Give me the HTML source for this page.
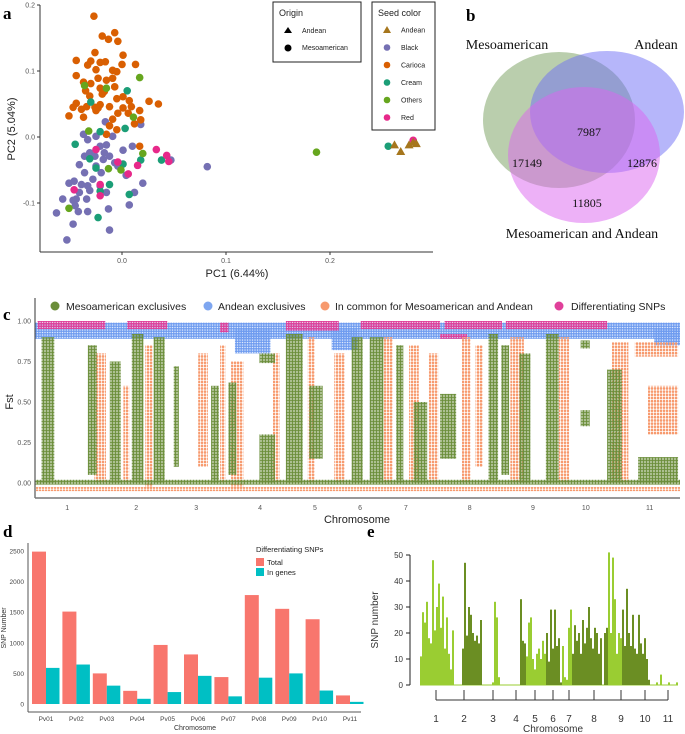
<!DOCTYPE html>
<html><head><meta charset="utf-8"><style>
body{margin:0;background:#fff;}
svg{display:block;font-family:"Liberation Sans",sans-serif;}
.pl{font-family:"Liberation Serif",serif;font-weight:bold;font-size:17px;}
.tk{font-size:7px;fill:#555;}
</style></head><body>
<svg id="fig" width="685" height="734" viewBox="0 0 685 734">
<defs>
<pattern id="pg" width="3" height="3" patternUnits="userSpaceOnUse"><circle cx="1.5" cy="1.5" r="1.45" fill="#6b8e3a"/></pattern>
<pattern id="po" width="3" height="3.2" patternUnits="userSpaceOnUse"><circle cx="1" cy="1.2" r="1.4" fill="#f79a6e"/></pattern>
<pattern id="pb" width="2.5" height="2.5" patternUnits="userSpaceOnUse"><circle cx="1.25" cy="1.25" r="1.25" fill="#6f9cf0"/></pattern>
<pattern id="pp" width="2.5" height="2.5" patternUnits="userSpaceOnUse"><circle cx="1.25" cy="1.25" r="1.25" fill="#e0409a"/></pattern>
</defs>
<!-- Panel A -->
<g id="pa">
<text class="pl" x="3" y="19">a</text>
<line x1="40" y1="5" x2="40" y2="252" stroke="#333"/>
<line x1="40" y1="252" x2="433" y2="252" stroke="#333"/>
<text x="237" y="277" font-size="11" text-anchor="middle" fill="#222">PC1 (6.44%)</text>
<text transform="translate(15,129) rotate(-90)" font-size="11" text-anchor="middle" fill="#222">PC2 (5.04%)</text>
<g id="aTicks"></g><g id="aPts"></g>
<g>
<rect x="273" y="2" width="88" height="60" fill="#fff" stroke="#222"/>
<text x="279" y="16" font-size="9" fill="#222">Origin</text>
<polygon points="288,27 284,33 292,33" fill="#000"/><text x="302" y="33" font-size="7" fill="#222">Andean</text>
<circle cx="288" cy="48" r="3.5" fill="#000"/><text x="302" y="50" font-size="7" fill="#222">Mesoamerican</text>
</g>
<g id="seedLeg">
<rect x="372" y="2" width="63" height="128" fill="#fff" stroke="#222"/>
<text x="378" y="16" font-size="9" fill="#222">Seed color</text>
</g>
</g>
<!-- Panel B -->
<g>
<text class="pl" x="466" y="21">b</text>
<ellipse cx="559" cy="120" rx="76" ry="68" fill="rgb(130,165,105)" fill-opacity="0.55"/>
<ellipse cx="607" cy="112" rx="77" ry="61" fill="rgb(110,110,245)" fill-opacity="0.5"/>
<ellipse cx="584" cy="155" rx="76" ry="68" fill="rgb(220,100,240)" fill-opacity="0.5"/>
<g font-family="Liberation Serif,serif" fill="#111">
<text x="507" y="49" font-size="14" text-anchor="middle">Mesoamerican</text>
<text x="656" y="49" font-size="14" text-anchor="middle">Andean</text>
<text x="582" y="238" font-size="14" text-anchor="middle">Mesoamerican and Andean</text>
<text x="589" y="136" font-size="12" text-anchor="middle">7987</text>
<text x="527" y="167" font-size="12" text-anchor="middle">17149</text>
<text x="642" y="167" font-size="12" text-anchor="middle">12876</text>
<text x="587" y="207" font-size="12" text-anchor="middle">11805</text>
</g>
</g>
<!-- Panel C -->
<g>
<text class="pl" x="3" y="320">c</text>
<g id="cLeg"></g>
<g id="cMarks"></g>
<line x1="35" y1="298" x2="35" y2="498" stroke="#333"/>
<line x1="35" y1="498" x2="680" y2="498" stroke="#777" stroke-width="1.5"/>
<g id="cTicks"></g>
<text x="357" y="523" font-size="11" text-anchor="middle" fill="#222">Chromosome</text>
<text transform="translate(13,402) rotate(-90)" font-size="11" text-anchor="middle" fill="#222">Fst</text>
</g>
<!-- Panel D -->
<g>
<text class="pl" x="3" y="537">d</text>
<line x1="28" y1="543" x2="28" y2="712" stroke="#555"/>
<line x1="28" y1="712" x2="361" y2="712" stroke="#555"/>
<g id="dMarks"></g>
<text x="195" y="730" font-size="7" text-anchor="middle" fill="#333">Chromosome</text>
<text transform="translate(6,628) rotate(-90)" font-size="7" text-anchor="middle" fill="#333">SNP Number</text>
<g>
<text x="256" y="552" font-size="7.5" fill="#222">Differentiating SNPs</text>
<rect x="256" y="558" width="8" height="8" fill="#f8766d"/><text x="267" y="565" font-size="7.5" fill="#222">Total</text>
<rect x="256" y="568" width="8" height="8" fill="#00bfc4"/><text x="267" y="575" font-size="7.5" fill="#222">In genes</text>
</g>
</g>
<!-- Panel E -->
<g>
<text class="pl" x="367" y="537">e</text>
<line x1="410" y1="555" x2="410" y2="685" stroke="#222"/>
<g id="eMarks"></g>
<line x1="436" y1="700" x2="668" y2="700" stroke="#333"/>
<text x="553" y="732" font-size="10" text-anchor="middle" fill="#333">Chromosome</text>
<text transform="translate(378,620) rotate(-90)" font-size="10" text-anchor="middle" fill="#333">SNP number</text>
</g>
</svg>
<script>
const NS="http://www.w3.org/2000/svg";
function mk(tag,attrs,parent,txt){const e=document.createElementNS(NS,tag);for(const k in attrs)e.setAttribute(k,attrs[k]);if(txt!==undefined)e.textContent=txt;parent.appendChild(e);return e;}
/* ---------- Panel A data ---------- */
const aXTicks=[0,0.1,0.2];
const aYTicks=[-0.1,0,0.1,0.2];
const cariocaPts=[[-0.027,0.183],[-0.019,0.153],[-0.007,0.158],[-0.013,0.148],[-0.004,0.145],[-0.026,0.128],[0.001,0.124],[-0.044,0.116],[-0.030,0.115],[-0.021,0.113],[-0.016,0.114],[0.013,0.110],[0,0.110],[-0.033,0.109],[-0.025,0.102],[-0.009,0.101],[-0.044,0.093],[-0.005,0.099],[-0.023,0.089],[-0.037,0.083],[-0.015,0.086],[-0.009,0.089],[-0.007,0.076],[-0.021,0.074],[-0.017,0.069],[-0.035,0.070],[-0.031,0.062],[-0.019,0.065],[-0.005,0.058],[0.001,0.061],[0.007,0.055],[0.026,0.054],[0.035,0.050],[-0.044,0.051],[-0.034,0.046],[-0.026,0.045],[-0.021,0.049],[-0.012,0.046],[-0.047,0.045],[-0.039,0.042],[-0.025,0.040],[0.001,0.044],[0.009,0.046],[0.017,0.040],[-0.051,0.032],[-0.037,0.030],[-0.009,0.027],[-0.004,0.036],[0.006,0.036],[0.012,0.020],[0.018,0.026],[-0.012,0.017],[-0.005,0.011],[-0.015,0.004],[0.017,-0.014],[-0.023,0.044],[-0.030,0.081]];
const blackPts=[[-0.063,-0.115],[-0.053,-0.156],[-0.047,-0.132],[-0.057,-0.094],[-0.047,-0.096],[-0.042,-0.113],[-0.033,-0.113],[-0.012,-0.141],[-0.013,-0.109],[0.007,-0.103],[0.012,-0.084],[0.020,-0.070],[0.082,-0.045],[0.047,-0.035],[0.004,-0.058],[0.001,-0.020],[0.010,-0.014],[0.018,0.019],[-0.016,0.023],[-0.037,0.004],[-0.033,-0.004],[-0.025,0.001],[-0.041,-0.042],[-0.036,-0.029],[-0.031,-0.024],[-0.021,-0.014],[-0.015,-0.012],[-0.017,-0.024],[-0.012,-0.029],[-0.007,-0.039],[-0.025,-0.044],[-0.020,-0.054],[-0.028,-0.064],[-0.033,-0.074],[-0.039,-0.072],[-0.046,-0.067],[-0.051,-0.070],[-0.041,-0.084],[-0.031,-0.081],[-0.015,-0.084],[-0.021,-0.074],[-0.009,0.001],[-0.004,-0.044],[-0.044,-0.094],[-0.036,-0.054],[-0.026,-0.029],[-0.034,-0.094],[-0.018,-0.034],[-0.045,-0.104]];
const creamPts=[[-0.030,0.053],[0.005,0.070],[-0.021,0.008],[0.003,0.013],[-0.045,-0.011],[-0.031,-0.033],[-0.025,-0.047],[-0.012,-0.072],[0.001,-0.041],[0.018,-0.035],[0.038,-0.035],[0.007,-0.087],[-0.023,-0.122],[-0.021,-0.082],[0.256,-0.014]];
const othersPts=[[-0.036,0.078],[0.017,0.090],[-0.015,0.074],[-0.032,0.009],[0.011,0.030],[0.020,-0.025],[-0.001,-0.050],[-0.013,-0.048],[-0.051,-0.108],[0.187,-0.023]];
const redPts=[[-0.046,-0.080],[-0.021,-0.089],[-0.021,-0.072],[0.033,-0.019],[0.043,-0.028],[0.045,-0.037],[0.015,-0.043],[0.006,-0.056],[-0.004,-0.038],[-0.025,-0.019],[0.280,-0.005]];
const andeanPts=[[0.262,-0.012],[0.268,-0.022],[0.276,-0.012],[0.280,-0.008],[0.283,-0.010]];
const seedNames=["Andean","Black","Carioca","Cream","Others","Red"];
const seedColors=["#a6761d","#7570b3","#d95f02","#1b9e77","#66a61e","#e7298a"];
/* ---------- Panel C data (genome position 0-100, Fst range) ---------- */
const cChromCenters=[5,15.7,25,34.9,43.4,50.4,57.5,67.4,77.2,85.4,95.3];
const cChromLabels=["1","2","3","4","5","6","7","8","9","10","11"];
const cYTicks=[0,0.25,0.5,0.75,1];
const blueBands=[[0,100,0.89,0.99],[31,36.5,0.8,0.95],[46,50,0.82,0.95],[96,100,0.85,0.95]];
const pinkBands=[[0.4,10.9,0.95,1.0],[14.3,20.5,0.95,1.0],[28.7,30,0.93,0.99],[38.9,47.1,0.94,1.0],[50.5,62.8,0.95,1.0],[63.5,72.4,0.95,1.0],[73,88.7,0.95,1.0],[62.8,67,0.89,0.92]];
const orangeStrips=[[9.2,11.0,0,0.8],[13.7,14.6,0,0.6],[17.1,18.2,-0.04,0.85],[25.3,26.8,0.1,0.8],[28.7,29.5,0,0.85],[30.4,32.3,-0.04,0.75],[36.9,37.9,0,0.8],[42.3,43.4,0,0.9],[46.4,48.0,0,0.8],[53.9,55.5,0,0.9],[58,59.5,0,0.85],[61,62.5,0,0.8],[66.2,67.5,0,0.9],[68.3,69.4,0.1,0.85],[73.7,75.8,0,0.9],[81.2,82.8,0,0.9],[89.4,92,0,0.87],[93,99.7,0.78,0.87],[95,99.7,0.3,0.6],[0,100,-0.05,-0.025]];
const greenStrips=[[1.0,3.0,0,0.9],[8.2,9.6,0.05,0.85],[11.6,13.3,0,0.75],[15.0,16.8,0,0.92],[18.4,20.1,0,0.9],[21.5,22.3,0.1,0.72],[27.3,28.5,0,0.6],[30.0,31.2,0.05,0.62],[34.8,37.2,0.74,0.8],[34.8,37.2,0,0.3],[38.9,41.5,0,0.92],[42.5,44.6,0.15,0.6],[49.1,50.8,0,0.9],[51.9,54.0,0,0.9],[56,57.1,0,0.85],[58.7,60.8,0,0.5],[62.8,65.3,0.15,0.55],[70.3,71.8,0,0.92],[72.3,73.5,0.05,0.85],[75.1,76.8,0,0.8],[79.2,81.2,0,0.92],[84.6,86,0.83,0.88],[84.6,86,0.35,0.45],[88.7,91.0,0,0.7],[93.5,99.7,0,0.16],[0,100,-0.01,0.02]];
/* ---------- Panel D data ---------- */
const dChrom=["Pv01","Pv02","Pv03","Pv04","Pv05","Pv06","Pv07","Pv08","Pv09","Pv10","Pv11"];
const dTotal=[2490,1510,500,215,965,810,440,1780,1555,1385,140];
const dInGenes=[590,645,300,85,195,460,125,430,500,220,35];
const dYTicks=[0,500,1000,1500,2000,2500];
/* ---------- Panel E data ---------- */
const eCounts=[11,28,24,32,18,16,48,21,30,39,22,34,14,26,12, 6,21,0,0,0,0, 14,47,19,30,27,20,17,19,16,25, 0,0,0,0,0, 1,32,26,3,0, 0,0,0,0,0,0,0,0,0, 33,17,16, 11,24,26,10,6,12,14,10,17,12, 20,9,29,14,29,15,18,1, 15,3,2,22,29, 12,23,17,20,12,25,16,22,30,18,14,22,20,12, 18,0,20,22, 51,20,49,33,12,20,18, 29,15,37,20,15,27,14,12,27,16,12,18,10,2,0, 0,0,1,0,4,0,0,0,1,0,0,0,1];
const eChromStart=[0,21,36,50,53,63,71,76,94,101,116];
const eTickPos=[436,464,493,516,535,553,569,594,621,645,668];
const eYTicks=[0,10,20,30,40,50];

/* ---- Panel A draw ---- */
const ax=v=>122+v*1040, ay=v=>137-v*660;
const aT=document.getElementById('aTicks'), aP=document.getElementById('aPts');
aXTicks.forEach(t=>{const l=mk('line',{x1:ax(t),x2:ax(t),y1:252,y2:255,stroke:'#333'},aT);
 const tx=mk('text',{x:ax(t),y:263,'text-anchor':'middle',class:'tk'},aT,t.toFixed(1));});
aYTicks.forEach(t=>{const l=mk('line',{x1:37,x2:40,y1:ay(t),y2:ay(t),stroke:'#333'},aT);
 const tx=mk('text',{x:35,y:ay(t)+2.5,'text-anchor':'end',class:'tk'},aT,t.toFixed(1));});
[[blackPts,1],[cariocaPts,2],[creamPts,3],[othersPts,4],[redPts,5]].forEach(([pts,ci])=>{pts.forEach(p=>{const c=mk('circle',{cx:ax(p[0]),cy:ay(p[1]),r:3.8,fill:seedColors[ci]},aP);});});
andeanPts.forEach(p=>{const x=ax(p[0]),y=ay(p[1]);const t=mk('polygon',{points:`${x},${y-4.5} ${x-4.5},${y+3.5} ${x+4.5},${y+3.5}`,fill:seedColors[0]},aP);});
const sl=document.getElementById('seedLeg');
seedNames.forEach((n,i)=>{const y=30+i*17.5;
 if(i===0){const t=mk('polygon',{points:`387,${y-4} 383,${y+3} 391,${y+3}`,fill:seedColors[0]},sl);}
 else{const c=mk('circle',{cx:387,cy:y,r:3.3,fill:seedColors[i]},sl);}
 const tx=mk('text',{x:401,y:y+2.5,'font-size':7,fill:'#222'},sl,n);});

/* ---- Panel C draw ---- */
const cx=u=>35+u*6.45, cy=v=>483-v*162;
const cM=document.getElementById('cMarks'), cT=document.getElementById('cTicks');
function bands(arr,fill,name){arr.forEach(b=>{const r=mk('rect',{x:cx(b[0]),y:cy(b[3]),width:Math.max(1,cx(b[1])-cx(b[0])),height:Math.max(2.5,cy(b[2])-cy(b[3])),fill:fill},cM);});}
bands(blueBands,'url(#pb)','andean-exclusive-snps');
bands(pinkBands,'url(#pp)','differentiating-snps');
bands(orangeStrips,'url(#po)','common-snps');
bands(greenStrips,'url(#pg)','mesoamerican-exclusive-snps');
cYTicks.forEach(t=>{const tx=mk('text',{x:31,y:cy(t)+2.5,'text-anchor':'end',class:'tk'},cT,t.toFixed(2));});
cChromCenters.forEach((u,i)=>{const tx=mk('text',{x:cx(u),y:510,'text-anchor':'middle',class:'tk'},cT,cChromLabels[i]);});
const cL=document.getElementById('cLeg');
[["Mesoamerican exclusives","#6b8e3a",55,66],["Andean exclusives","#7ea6f0",208,218],["In common for Mesoamerican and Andean","#f79a6e",325,335],["Differentiating SNPs","#e0409a",559,571]].forEach(l=>{
 const c=mk('circle',{cx:l[2],cy:306,r:4.5,fill:l[1]},cL);
 const t=mk('text',{x:l[3],y:310,'font-size':10.5,fill:'#222'},cL,l[0]);});

/* ---- Panel D draw ---- */
const dy=v=>704-v*0.0612, dc=i=>46+30.4*i;
const dM=document.getElementById('dMarks');
dYTicks.forEach(t=>{const tx=mk('text',{x:24,y:dy(t)+2.5,'text-anchor':'end','font-size':6.5,fill:'#444'},dM,String(t));});
dChrom.forEach((n,i)=>{
 const r1=mk('rect',{x:dc(i)-14,y:dy(dTotal[i]),width:14,height:704-dy(dTotal[i]),fill:'#f8766d'},dM);
 const r2=mk('rect',{x:dc(i),y:dy(dInGenes[i]),width:13.5,height:704-dy(dInGenes[i]),fill:'#00bfc4'},dM);
 const tx=mk('text',{x:dc(i),y:721,'text-anchor':'middle','font-size':6.5,fill:'#444'},dM,n);});

/* ---- Panel E draw ---- */
const ey=v=>685-v*2.6, ex=i=>420+i*2;
const eM=document.getElementById('eMarks');
eYTicks.forEach(t=>{const l=mk('line',{x1:406,x2:410,y1:ey(t),y2:ey(t),stroke:'#222'},eM);
 const tx=mk('text',{x:403,y:ey(t)+3,'text-anchor':'end','font-size':8,fill:'#333'},eM,String(t));});
const base=mk('line',{x1:420,x2:678,y1:685,y2:685,stroke:'#9acd32','stroke-width':1},eM);


eCounts.forEach((v,i)=>{let ch=0;eChromStart.forEach((s,k)=>{if(i>=s)ch=k;});
 const r=mk('rect',{x:ex(i),y:ey(v),width:2,height:685-ey(v),fill:ch%2?'#6b8e23':'#9acd32'},eM);});
eTickPos.forEach((p,i)=>{const l=mk('line',{x1:p,x2:p,y1:690,y2:700,stroke:'#333'},eM);
 const tx=mk('text',{x:p,y:722,'text-anchor':'middle','font-size':10,fill:'#333'},eM,String(i+1));});
</script>
</body></html>
